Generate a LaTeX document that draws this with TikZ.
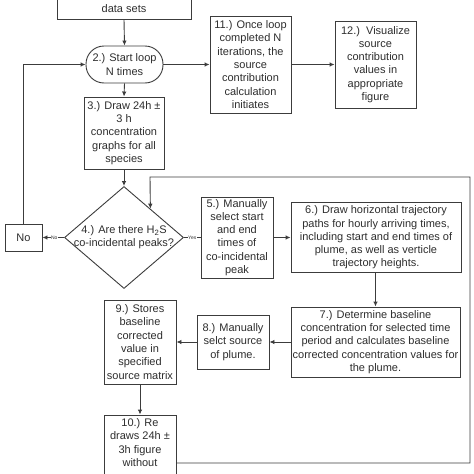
\documentclass[tikz,border=0pt]{standalone}
\usepackage{fontspec}
\setmainfont{Liberation Sans}
\usetikzlibrary{shapes.geometric,arrows.meta,calc}
\definecolor{lncol}{HTML}{3C3C3C}
\definecolor{txcol}{HTML}{2E2E2E}
\begin{document}
\begin{tikzpicture}[x=1pt,y=-1pt,
  box/.style={draw=lncol, line width=0.9pt, rectangle, inner sep=0pt, align=center,
    text=txcol, font=\fontsize{11}{13.3}\selectfont},
  txt/.style={inner sep=0pt, align=center, text=txcol, font=\fontsize{11}{13.3}\selectfont},
  arr/.style={draw=lncol, line width=0.9pt, -{Latex[length=5pt,width=4.5pt]}},
  plainline/.style={draw=lncol, line width=0.9pt},
  tag/.style={font=\fontsize{5}{6}\selectfont, fill=white, inner sep=0.6pt, text=txcol}]
\useasboundingbox (0,0) rectangle (474,474);
\clip (0,0) rectangle (474,474);
\fill[white] (0,0) rectangle (474,474);

% nodes
\node[box, minimum width=134, minimum height=60] (b1) at (124,-11) {};
\node[txt] (t1) at (124,9) {data sets};
\node[box, rounded corners=18, minimum width=77, minimum height=37] (b2) at (124.5,64.5) {2.) Start loop\\N times};
\node[box, minimum width=81, minimum height=97] (b11) at (250.5,64.5)
  {11.) Once loop\\completed N\\iterations, the\\source\\contribution\\calculation\\initiates};
\node[box, minimum width=81, minimum height=87] (b12) at (375.5,64.5)
  {12.)\ \ Visualize\\source\\contribution\\values in\\appropriate\\figure};
\node[box, minimum width=80, minimum height=72] (b3) at (124,133)
  {3.) Draw 24h ±\\3 h\\concentration\\graphs for all\\species};
\node[diamond, draw=lncol, line width=0.9pt, minimum width=119, minimum height=102, inner sep=0pt] (d4) at (124,237.5) {};
\node[txt] (t4) at (124,237.5) {4.) Are there H\textsubscript{2}S\\co-incidental peaks?};
\node[box, minimum width=37, minimum height=27] (no) at (23.5,237.5) {No};
\node[box, minimum width=72, minimum height=81] (b5) at (237,237.5)
  {5.) Manually\\select start\\and end\\times of\\co-incidental\\peak};
\node[box, minimum width=170, minimum height=70] (b6) at (376,237.5)
  {6.) Draw horizontal trajectory\\paths for hourly arriving times,\\including start and end times of\\plume, as well as verticle\\trajectory heights.};
\node[box, minimum width=169, minimum height=70] (b7) at (375.5,342)
  {7.) Determine baseline\\concentration for selected time\\period and calculates baseline\\corrected concentration values for\\the plume.};
\node[box, minimum width=72, minimum height=54] (b8) at (233,342)
  {8.) Manually\\selct source\\of plume.};
\node[box, minimum width=72, minimum height=84] (b9) at (140,342)
  {9.) Stores\\baseline\\corrected\\value in\\specified\\source matrix};
\node[box, minimum width=72, minimum height=96] (b10) at (140,463) {};
\node[txt, anchor=north] (t10) at (140,418.5) {10.) Re\\draws 24h ±\\3h figure\\without};

% connectors
\draw[arr] (b1.south) -- (b2.north);
\draw[arr] (b2.east) -- (b11.west);
\draw[arr] (b11.east) -- (b12.west);
\draw[arr] (b2.south) -- (b3.north);
\draw[arr] (b3.south) -- (d4.north);
\draw[arr] (d4.west) -- node[tag, pos=0.45]{No} (no.east);
\draw[arr] (no.north) |- (b2.west);
\draw[plainline] (d4.east) -- node[tag]{Yes} (b5.west);
\draw[arr] (b5.east) -- (b6.west);
\draw[arr] (b7.north |- b6.south) -- (b7.north);
\draw[arr] (b7.west) -- (b8.east);
\draw[arr] (b8.west) -- (b9.east);
\draw[arr] (b9.south) -- (b10.north);
\coordinate (c1) at (470,463);
\coordinate (c2) at (470,177);
\coordinate (c3) at (150,177);
\coordinate (dt) at ($(d4.north)!0.44!(d4.east)$);
\draw[arr] (b10.east) -- (c1) -- (c2) -- (c3) -- (dt);
\end{tikzpicture}
\end{document}
